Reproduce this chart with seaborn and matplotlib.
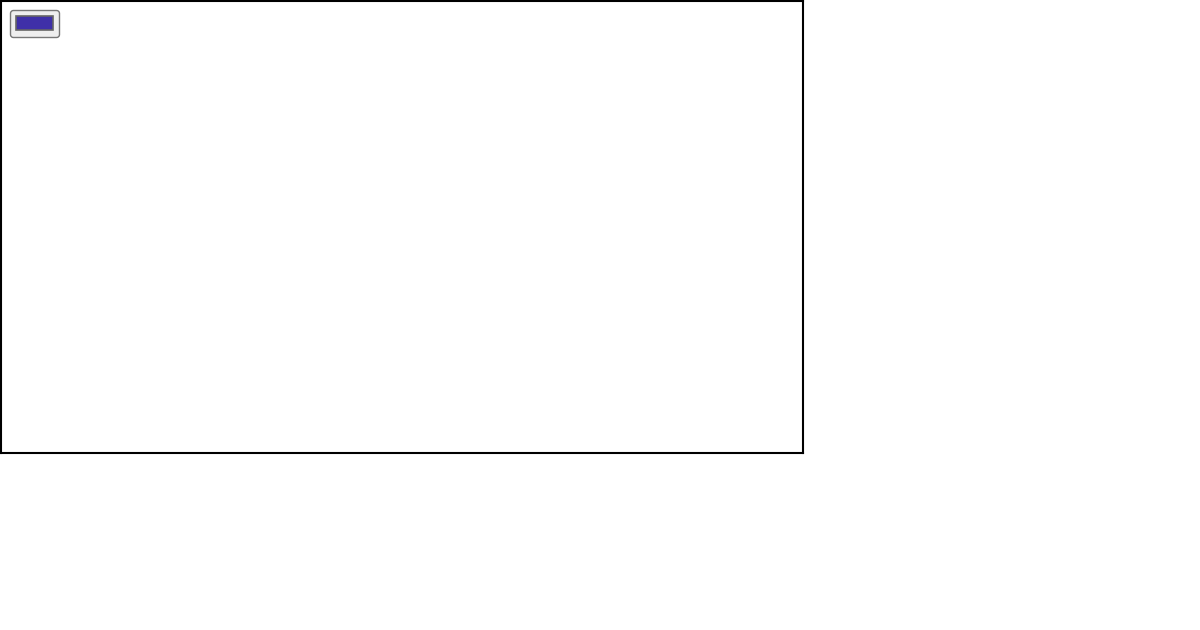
import matplotlib
matplotlib.use("Agg")
import matplotlib.pyplot as plt
import seaborn as sns
from matplotlib.patches import Patch

# the chart holds no data points, only one unnamed series in the legend
categories = []
values = []
series_names = [""]
series_colors = ["#3f30a8"]

sns.set_style("white")
plt.rcParams['font.family'] = ['DejaVu Sans']

fig = plt.figure(figsize=(12, 6.3), dpi=100)
ax = fig.add_axes([1 / 1200, (630 - 453) / 630, 802 / 1200, 452 / 630])

if len(values):
    sns.barplot(x=categories, y=values, color=series_colors[0], ax=ax)

ax.set_xticks([])
ax.set_yticks([])
ax.set_xlabel("")
ax.set_ylabel("")
for s in ax.spines.values():
    s.set_visible(True)
    s.set_color("black")
    s.set_linewidth(1.5)

handles = [Patch(facecolor=c, edgecolor="#666666", linewidth=1.2, label=n)
           for n, c in zip(series_names, series_colors)]
leg = ax.legend(handles=handles, labels=series_names, loc="upper left",
                fontsize=10, handlelength=2.62, handleheight=1.15,
                handletextpad=0, borderpad=0.45, borderaxespad=0.65,
                frameon=True, fancybox=True, framealpha=1)
frame = leg.get_frame()
frame.set_facecolor("#eeeeee")
frame.set_edgecolor("#777777")
frame.set_linewidth(1.0)

fig.savefig("out.png", dpi=100)
